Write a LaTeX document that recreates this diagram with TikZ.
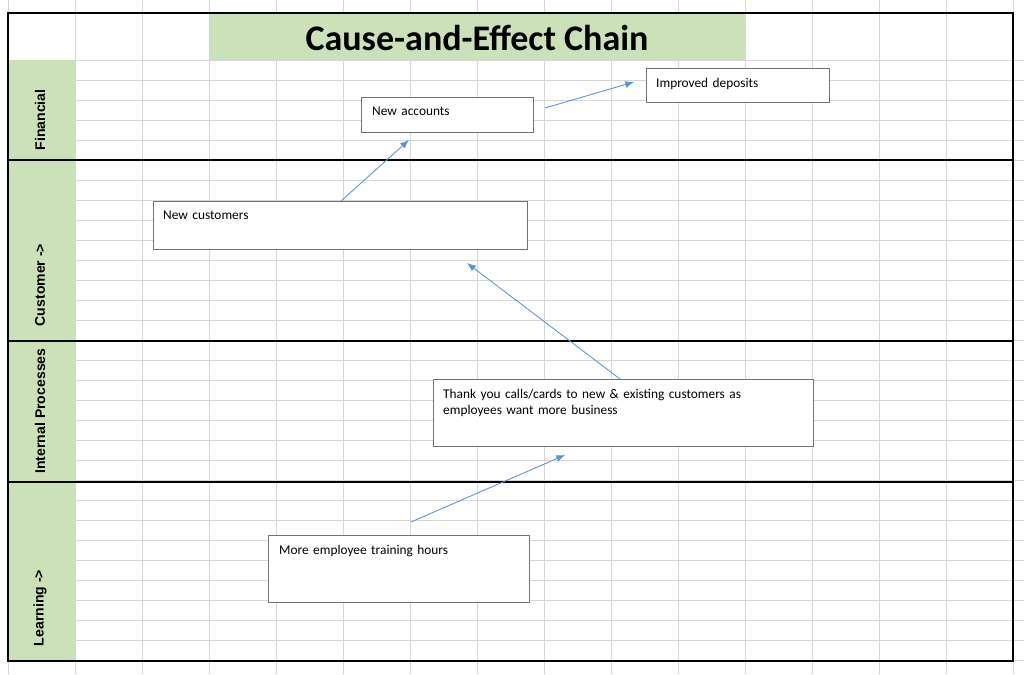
\documentclass[tikz,border=0pt]{standalone}
\usepackage{fontspec}
\setmainfont{Carlito}
\newfontfamily\sidefont{Liberation Sans}
\usetikzlibrary{arrows.meta,positioning}
\definecolor{cellgreen}{RGB}{204,224,186}
\definecolor{gridgray}{RGB}{215,215,215}
\definecolor{linkblue}{RGB}{91,150,210}

\begin{document}
\begin{tikzpicture}[
    x=0.02cm, y=-0.02cm,
    card/.style={draw=black!55, line width=0.4pt, fill=white, anchor=north west, inner sep=0pt},
    cardtext/.style={anchor=north west, align=left, font=\fontsize{7.6}{9}\selectfont, text width=#1},
    lane/.style={rotate=90, font=\sidefont\bfseries\fontsize{8}{9}\selectfont},
    link/.style={draw=linkblue, line width=0.5pt, -{Latex[length=5pt,width=4pt]}}
  ]
  \useasboundingbox (0,0) rectangle (1024,674);

  % Grid
  \foreach \x in {8,75,...,1013}
    \draw[gridgray] (\x,0) -- (\x,674);
  \foreach \y in {60,80,...,660}
    \draw[gridgray] (8,\y) -- (1024,\y);

  % Green cells
  \fill[cellgreen] (8,60) rectangle (75,660);
  \fill[cellgreen] (209,14) rectangle (745,60);
  \node[font=\bfseries\fontsize{20.5}{24}\selectfont] (title) at (477,38) {Cause-and-Effect Chain};

  % Lanes
  \draw[line width=1.6pt] (8,13) rectangle (1013,661);
  \foreach \y in {160,341,482}
    \draw[line width=0.8pt] (8,\y) -- (1013,\y);
  \node[lane] (LFin) at (40,120) {Financial};
  \node[lane] (LCus) at (40,285) {Customer ->};
  \node[lane] (LInt) at (40,411) {Internal Processes};
  \node[lane] (LLea) at (40,608) {Learning ->};

  % Cards
  \draw[card] (646,68) rectangle (829,102);
  \node[cardtext=3.4cm] (deposits) at (650,72) {Improved deposits};
  \draw[card] (361,97) rectangle (533,132);
  \node[cardtext=3.2cm] (accounts) at (366,101) {New accounts};
  \draw[card] (153,201) rectangle (527,249);
  \node[cardtext=7cm] (customers) at (157,205) {New customers};
  \draw[card] (433,379) rectangle (813,446);
  \node[cardtext=7.2cm] (calls) at (437,383) {Thank you calls/cards to new \& existing customers as\\employees want more business};
  \draw[card] (268,535) rectangle (529,602);
  \node[cardtext=5cm] (training) at (273,539) {More employee training hours};

  % Links
  \coordinate (trainOut) at (411,522);
  \coordinate (callsIn) at (565,455);
  \coordinate (callsOut) at (620,379);
  \coordinate (custIn) at (467,263);
  \coordinate (custOut) at (341,201);
  \coordinate (accIn) at (409,140);
  \coordinate (accOut) at (545,108);
  \coordinate (depIn) at (634,82);
  \draw[link] (trainOut) -- (callsIn);
  \draw[link] (callsOut) -- (custIn);
  \draw[link] (custOut) -- (accIn);
  \draw[link] (accOut) -- (depIn);

\end{tikzpicture}
\end{document}
